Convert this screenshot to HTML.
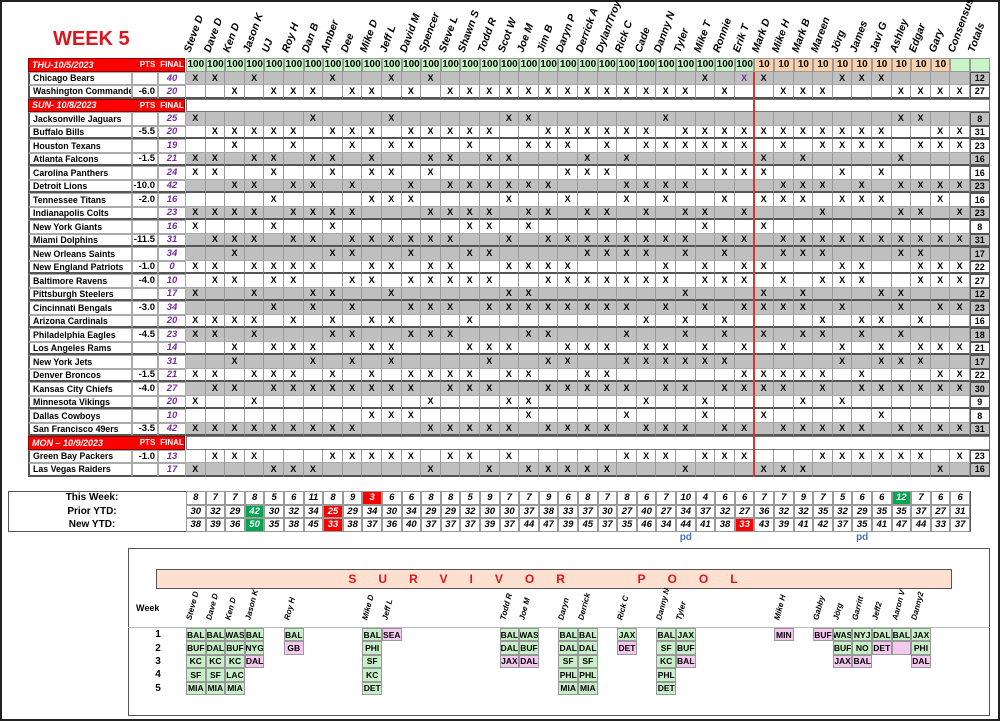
<!DOCTYPE html>
<html><head><meta charset="utf-8">
<style>
body{margin:0;background:#fff;}
#pg{position:relative;width:1000px;height:721px;overflow:hidden;background:#fff;font-family:"Liberation Sans",Arial,sans-serif;}
.a{position:absolute;box-sizing:border-box;white-space:nowrap;overflow:hidden;}
.c{display:flex;align-items:center;justify-content:center;}
.nm{position:absolute;font-size:10.5px;font-weight:bold;font-style:italic;white-space:nowrap;transform-origin:0 100%;transform:rotate(-70deg);}
.sn{position:absolute;font-size:8px;font-style:italic;font-weight:bold;white-space:nowrap;transform-origin:0 100%;transform:rotate(-75deg);}
</style></head><body>
<div id="pg">
<div class="a" style="left:0;top:0;width:1000px;height:721px;border:2px solid #222;"></div>
<div class="a" style="left:53px;top:28px;font-size:20px;font-weight:bold;color:#e0141e;">WEEK 5</div>
<div class="a" style="left:128px;top:548px;width:862px;height:168px;border:1px solid #555;"></div>
<div class="a c" style="left:156px;top:569px;width:796px;height:20px;border:1px solid #555;background:#fde0d0;color:#e0141e;font-weight:bold;font-size:12px;letter-spacing:22px;">SURVIVOR&nbsp;&nbsp;POOL</div>
<div class="a" style="left:136px;top:603px;font-size:9px;font-weight:bold;">Week</div>
</div>
<script>
const players=["Steve D","Dave D","Ken D","Jason K","UJ","Roy H","Dan B","Amber","Dee","Mike D","Jeff L","David M","Spencer","Steve L","Shawn S","Todd R","Scot W","Joe M","Jim B","Daryn P","Derrick A","Dylan/Troy","Rick C","Cade","Danny N","Tyler","Mike T","Ronnie","Erik T","Mark D","Mike H","Mark B","Mareen","Jörg","James","Javi G","Ashley","Edgar","Gary","Consensus","Totals"];
const teams=["Chicago Bears","Washington Commanders","Jacksonville Jaguars","Buffalo Bills","Houston Texans","Atlanta Falcons","Carolina Panthers","Detroit Lions","Tennessee Titans","Indianapolis Colts","New York Giants","Miami Dolphins","New Orleans Saints","New England Patriots","Baltimore Ravens","Pittsburgh Steelers","Cincinnati Bengals","Arizona Cardinals","Philadelphia Eagles","Los Angeles Rams","New York Jets","Denver Broncos","Kansas City Chiefs","Minnesota Vikings","Dallas Cowboys","San Francisco 49ers","Green Bay Packers","Las Vegas Raiders"];
const spreads=["","-6.0","","-5.5","","-1.5","","-10.0","-2.0","","","-11.5","","-1.0","-4.0","","-3.0","","-4.5","","","-1.5","-4.0","","","-3.5","-1.0",""];
const finals=[40,20,25,20,19,21,24,42,16,23,16,31,34,0,10,17,34,20,23,14,31,21,27,20,10,42,13,17];
const totals=[12,27,8,31,23,16,16,23,16,23,8,31,17,22,27,12,23,16,18,21,17,22,30,9,8,31,23,16];
const shaded=[1,0,1,0,0,1,0,1,0,1,0,1,1,0,0,1,1,0,1,0,1,0,1,0,0,1,0,1];
const picks=[
[0,1,3,7,10,12,26,28,29,33,34,35],
[2,4,5,6,8,9,11,13,14,15,16,17,18,19,20,21,22,23,24,25,27,30,31,32,36,37,38,39],
[0,6,10,16,17,24,36,37],
[1,2,3,4,5,7,8,9,11,12,13,14,15,18,19,20,21,22,23,25,26,27,28,29,30,31,32,33,34,35,38,39],
[2,5,8,10,11,14,17,18,19,21,23,24,25,26,27,28,30,32,33,34,35,37,38,39],
[0,1,3,4,6,7,9,12,13,15,16,20,22,29,31,36],
[0,1,4,7,9,10,12,19,20,21,26,27,28,29,33,35],
[2,3,5,6,8,11,13,14,15,16,17,18,22,23,24,25,30,31,32,34,36,37,38,39],
[4,9,10,11,16,19,22,24,27,29,30,31,33,34,35,38],
[0,1,2,3,5,6,7,8,12,13,14,15,17,18,20,21,23,25,26,28,32,36,37,39],
[0,4,7,14,15,17,26,29],
[1,2,3,5,6,8,9,10,11,12,13,16,18,19,20,21,22,23,24,25,27,28,30,31,32,33,34,35,36,37,38,39],
[2,7,8,11,14,15,20,21,22,23,25,27,30,31,32,36,37],
[0,1,3,4,5,6,9,10,12,13,16,17,18,19,24,26,28,29,33,34,37,38,39],
[1,2,4,5,8,9,11,12,13,14,15,18,19,20,21,22,23,24,26,27,28,30,32,33,34,37,38,39],
[0,3,6,7,10,16,17,25,29,31,35,36],
[4,6,8,11,12,13,15,16,17,18,19,20,21,22,24,26,28,29,30,31,33,36,38,39],
[0,1,2,3,5,7,9,10,14,23,25,27,32,34,35,37],
[0,1,3,7,8,11,12,13,17,18,22,25,27,29,31,32,34,36],
[2,4,5,6,9,10,14,15,16,19,20,21,23,24,26,28,30,33,35,37,38,39],
[2,6,8,10,15,18,19,22,23,24,25,26,27,33,35,36,37],
[0,1,3,4,5,7,9,11,12,13,14,16,17,20,21,28,29,30,31,32,34,38,39],
[1,2,4,5,6,7,8,9,10,11,13,14,15,18,19,20,21,22,24,25,27,28,29,30,32,34,35,36,37,38,39],
[0,3,12,16,17,23,26,31,33],
[9,10,11,17,22,26,29,35],
[0,1,2,3,4,5,6,7,8,12,13,14,15,16,18,19,20,21,23,24,25,27,28,30,31,32,33,34,36,37,38,39],
[1,2,3,7,8,9,10,11,13,14,16,22,23,24,26,27,28,32,33,34,35,36,37,39],
[0,4,5,6,12,15,17,18,19,20,21,25,29,30,31,38]];
const headers=["THU-10/5/2023","SUN- 10/8/2023","MON – 10/9/2023"];
const thisWeek=[8,7,7,8,5,6,11,8,9,3,6,6,8,8,5,9,7,7,9,6,8,7,8,6,7,10,4,6,6,7,7,9,7,5,6,6,12,7,6,6];
const priorYTD=[30,32,29,42,30,32,34,25,29,34,30,34,29,29,32,30,30,37,38,33,37,30,27,40,27,34,37,32,27,36,32,32,35,32,29,35,35,37,27,31];
const newYTD=[38,39,36,50,35,38,45,33,38,37,36,40,37,37,37,39,37,44,47,39,45,37,35,46,34,44,41,38,33,43,39,41,42,37,35,41,47,44,33,37];
const survNames=["Steve D","Dave D","Ken D","Jason K","Roy H","Mike D","Jeff L","Todd R","Joe M","Daryn","Derrick","Rick C","Danny N","Tyler","Mike H","Gabby","Jörg","Garritt","Jeff2","Aaron V","Danny2"];
const survCols=[0,1,2,3,5,9,10,16,17,19,20,22,24,25,30,32,33,34,35,36,37];
const survPicks=[["BAL","BUF","KC","SF","MIA"],["BAL","DAL","KC","SF","MIA"],["WAS","BUF","KC","LAC","MIA"],["BAL","NYG","DAL"],["BAL","GB"],["BAL","PHI","SF","KC","DET"],["SEA"],["BAL","DAL","JAX"],["WAS","BUF","DAL"],["BAL","DAL","SF","PHL","MIA"],["BAL","DAL","SF","PHL","MIA"],["JAX","DET"],["BAL","SF","KC","PHL","DET"],["JAX","BUF","BAL"],["MIN"],["BUF"],["WAS","BUF","JAX"],["NYJ","NO","BAL"],["DAL","DET"],["BAL",""],["JAX","PHI","DAL"]];

const pg=document.getElementById('pg');
const X0=186,CW=19.6,Y0=58,RH=13.5;
function cx(i){return X0+i*CW;}
function box(x,y,w,h,css,txt){const d=document.createElement('div');d.className='a c';d.style.cssText=`left:${x}px;top:${y}px;width:${w}px;height:${h}px;`+css;if(txt!==undefined)d.textContent=txt;pg.appendChild(d);return d;}

players.forEach((p,i)=>{const d=document.createElement('div');d.className='nm';d.style.left=(cx(i)+7)+'px';d.style.top=(42)+'px';d.textContent=p;


pg.appendChild(d);});

for(let i=0;i<41;i++){const g=i>=29&&i<=38;const d=box(cx(i),Y0,CW,RH,`background:${g?'#fcd0a8':'#c8f5c8'};border:1px solid #999;font-size:10px;font-weight:bold;`,i<29?'100':(g?'10':''));

}

let ti=0;
const layout=[['h',0],['t'],['t'],['h',1]];for(let k=0;k<24;k++)layout.push(['t']);layout.push(['h',2],['t'],['t']);
const sepAfter=[1,3,5,7,9,11,13,15,17,19,21,23,25,27];
layout.forEach((L,r)=>{const y=Y0+r*RH;
 if(L[0]==='h'){const h=box(28,y,157,RH,'background:#f00;border:1px solid #800;justify-content:flex-start;color:#fff;font-size:9px;font-weight:bold;font-style:italic;padding-left:3px;',headers[L[1]]);
  
  
  const p=box(135,y,25,RH,'color:#fff;font-size:8px;font-weight:bold;','PTS');
  const f=box(158,y,28,RH,'color:#fff;font-size:8px;font-weight:bold;','FINAL');
  if(r>0){const w=box(186,y,804,RH,'border:1px solid #777;background:#fff;');}
  return;}
 const t=ti++;
 const bg=shaded[t]?'#c0c0c0':'#fff';
 const bb=sepAfter.includes(t)?'border-bottom:2px solid #555;':'';
 const n=box(28,y,104,RH,'background:#fff;border:1px solid #aaa;border-left:2px solid #555;justify-content:flex-start;padding-left:3px;font-size:8.8px;font-weight:bold;'+bb,teams[t]);
 
 const s=box(132,y,26,RH,'background:#fff;border:1px solid #aaa;justify-content:flex-end;padding-right:2px;font-size:9.5px;font-weight:bold;'+bb,spreads[t]);
 
 const f=box(158,y,28,RH,'background:#fff;border:1px solid #aaa;color:#7030a0;font-style:italic;font-size:9.5px;font-weight:bold;'+bb,finals[t]);
 
 for(let i=0;i<40;i++){const has=picks[t].includes(i);
  const c=box(cx(i),y,CW,RH,`background:${bg};border-right:1px solid #999;border-bottom:1px solid #aaa;font-size:9px;font-weight:bold;${t===0&&i===28?'color:#7030a0;':''}`+bb,has?'X':'');
  
  }
 const tt=box(cx(40),y,CW,RH,`background:${bg};border:1px solid #555;font-size:9px;font-weight:bold;`+bb,totals[t]);
 
});
const rl=box(cx(29)-1,Y0+RH,2,RH*30,'background:#d33;');

const lbls=["This Week:","Prior YTD:","New YTD:"],arrs=[thisWeek,priorYTD,newYTD];
const sb=box(8,491,963,41,'border:1px solid #555;');
arrs.forEach((a,r)=>{const y=491+r*13.5;
 const l=box(8,y,178,13.5,'font-size:10px;font-weight:bold;padding-right:10px;',lbls[r]);
 a.forEach((v,i)=>{let bg='#fff',col='#000';
  if((r===0&&i===9)||(r===1&&i===7)||(r===2&&(i===7||i===28))){bg='#f00';col='#fff';}
  if((r===0&&i===36)||(r>0&&i===3)){bg='#00a650';col='#fff';}
  const c=box(cx(i),y,CW,13.5,`background:${bg};color:${col};border:1px solid #999;font-size:9.5px;font-weight:bold;font-style:italic;`,v);
  
  });});
[25,34].forEach(i=>{const p=box(cx(i),531,CW,13,'color:#4472c4;font-size:10px;font-weight:bold;','pd');});

for(let w=0;w<5;w++){const n=box(148,628+w*13.4,20,13.4,'font-size:10px;font-weight:bold;',w+1);}
const hl=box(128,627,862,1,'background:#bbb;');
survNames.forEach((nm,k)=>{const i=survCols[k];
 const d=document.createElement('div');d.className='sn';d.style.left=(cx(i)+7)+'px';d.style.top=(612)+'px';d.textContent=nm;
 
 
 pg.appendChild(d);
 const ps=survPicks[k];
 ps.forEach((p,w)=>{const last=(w===ps.length-1&&ps.length<5);
  const c=box(cx(i),628+w*13.4,CW,13.4,`background:${last?'#f5c8f0':'#c8f0c8'};border:1px solid #999;font-size:8.5px;font-weight:bold;`,p);
  
  });});
</script>
</body></html>
